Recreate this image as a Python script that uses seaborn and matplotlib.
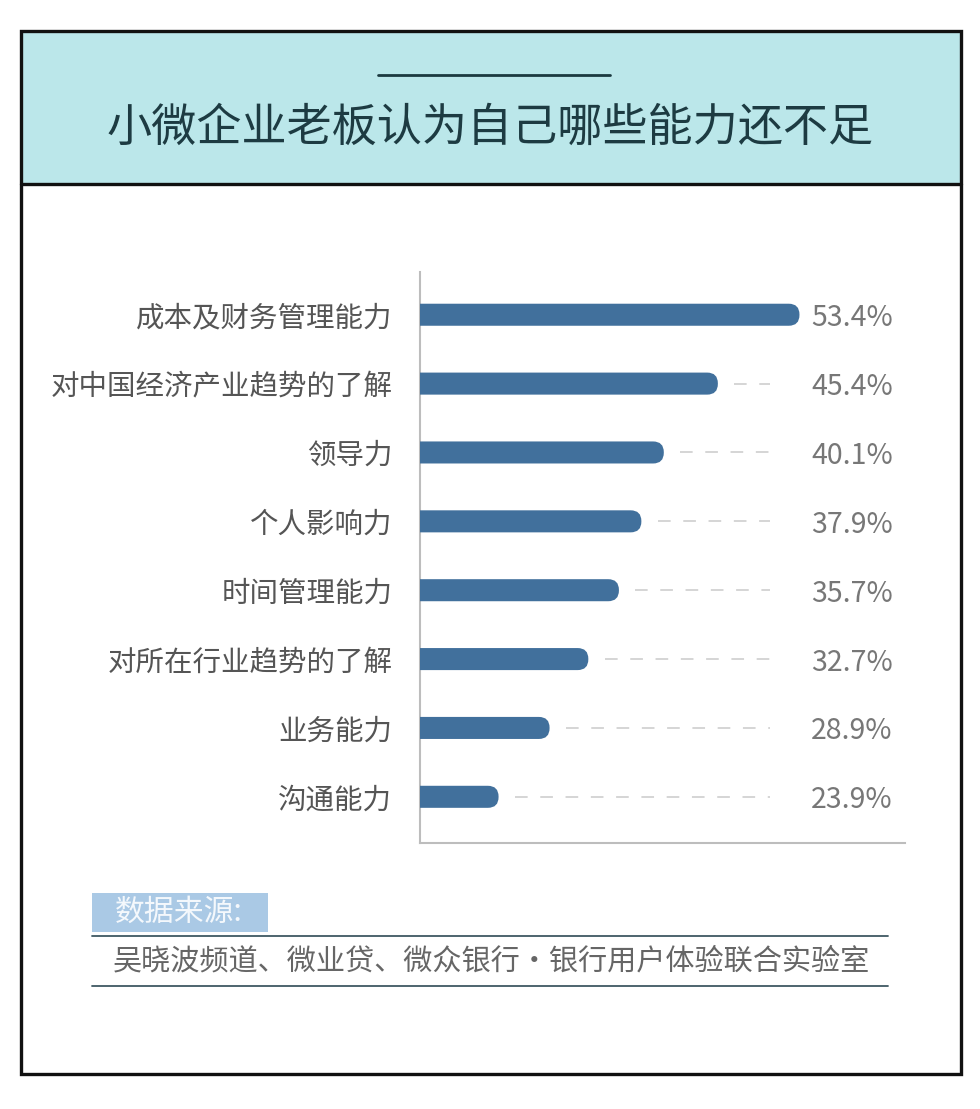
import seaborn as sns
import matplotlib.pyplot as plt
import pandas as pd
from matplotlib.patches import Rectangle, FancyBboxPatch
from matplotlib.lines import Line2D

categories = ["成本及财务管理能力", "对中国经济产业趋势的了解", "领导力", "个人影响力",
              "时间管理能力", "对所在行业趋势的了解", "业务能力", "沟通能力"]
values = [53.4, 45.4, 40.1, 37.9, 35.7, 32.7, 28.9, 23.9]
value_labels = ["53.4%", "45.4%", "40.1%", "37.9%", "35.7%", "32.7%", "28.9%", "23.9%"]

title = "小微企业老板认为自己哪些能力还不足"
source_head = "数据来源:"
source_text = "吴晓波频道、微业贷、微众银行·银行用户体验联合实验室"

bar_color = "#41709c"
header_color = "#bbe7ea"

sns.set_style("white")
plt.rcParams['font.family'] = ['Noto Sans CJK SC', 'DejaVu Sans']

df = pd.DataFrame({"能力": categories, "比例": values})

fig = plt.figure(figsize=(9.8, 11.09), dpi=100)
fig.patch.set_facecolor("white")

# frame and header
fig.patches.append(Rectangle((0.0214, 0.8345), 0.959, 0.1375, transform=fig.transFigure,
                             facecolor=header_color, edgecolor="none", zorder=0))
fig.patches.append(Rectangle((0.0214, 0.0316), 0.959, 0.9404, transform=fig.transFigure,
                             facecolor="none", edgecolor="#111111", linewidth=2.4, zorder=1))
fig.lines.append(Line2D([0.0214, 0.9806], [0.8345, 0.8345], transform=fig.transFigure,
                        color="#111111", linewidth=2.4))
fig.lines.append(Line2D([0.386, 0.622], [0.9324, 0.9324], transform=fig.transFigure,
                        color="#1b3a40", linewidth=2))
fig.text(0.5, 0.8846, title, ha="center", va="center", fontsize=32.5, color="#1d3b42")

ax = fig.add_axes([0.4286, 0.2399, 0.4949, 0.5148])
sns.barplot(data=df, x="比例", y="能力", orient="h", color=bar_color, width=0.32,
            saturation=1, ax=ax)

x0, x1 = 16.2, 63.75
ax.set_xlim(x0, x1)
ax.set_ylim(7.67, -0.62)

# rounded bar ends
for p in list(ax.patches):
    bx, by, bw, bh = p.get_x(), p.get_y(), p.get_width(), p.get_height()
    p.remove()
    ax.add_patch(FancyBboxPatch((bx, by), bw, bh, boxstyle="round,pad=0,rounding_size=1.05",
                                mutation_aspect=0.148, facecolor=bar_color,
                                edgecolor="none", zorder=3))

# dashed guides and value labels
dash_end = 50.5
for i, v in enumerate(values):
    if v + 1.6 < dash_end:
        ax.plot([v + 1.6, dash_end], [i, i], color="#d2d2d2", linewidth=1.3,
                linestyle=(0, (7, 7)), zorder=2)
    ax.text(0.806, i + 0.05, value_labels[i], transform=ax.get_yaxis_transform(),
            ha="left", va="center", fontsize=20.5, color="#777777")

for s in ["top", "right"]:
    ax.spines[s].set_visible(False)
for s in ["left", "bottom"]:
    ax.spines[s].set_color("#bdbdbd")
    ax.spines[s].set_linewidth(1.5)
ax.set_xticks([])
ax.tick_params(axis="y", length=0, pad=20, labelsize=20.5, labelcolor="#555555")
ax.set_xlabel("")
ax.set_ylabel("")

# source block
fig.patches.append(Rectangle((0.0939, 0.1596), 0.1796, 0.0352, transform=fig.transFigure,
                             facecolor="#aac9e5", edgecolor="none"))
fig.text(0.1173, 0.1776, source_head, ha="left", va="center", fontsize=21.5, color="#f4f8fc")
fig.lines.append(Line2D([0.0939, 0.906], [0.156, 0.156], transform=fig.transFigure,
                        color="#3f5862", linewidth=1.3))
fig.lines.append(Line2D([0.0939, 0.906], [0.1109, 0.1109], transform=fig.transFigure,
                        color="#3f5862", linewidth=1.3))
fig.text(0.501, 0.1326, source_text, ha="center", va="center", fontsize=21, color="#666666")

fig.savefig("out.png", dpi=100)
